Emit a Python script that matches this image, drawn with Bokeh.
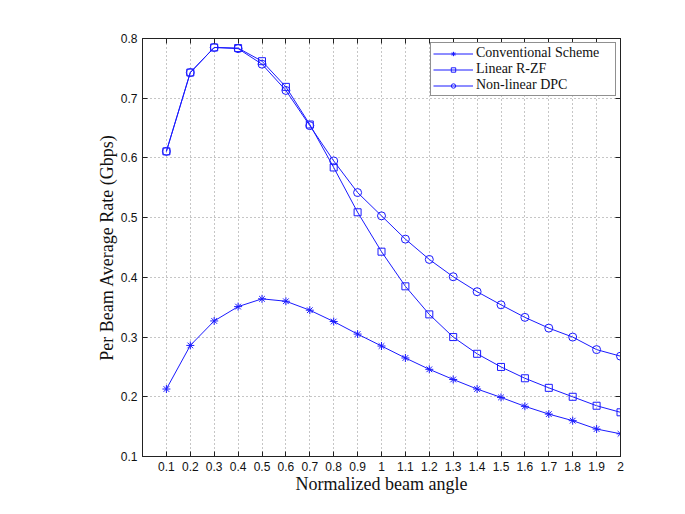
from bokeh.plotting import figure
from bokeh.models import (FixedTicker, LinearAxis, Legend, LegendItem, Range1d,
                          CustomJSTickFormatter)
from bokeh.embed import file_html
from bokeh.resources import INLINE

# ---- data ----
beam_angle = [0.1, 0.2, 0.3, 0.4, 0.5, 0.6, 0.7, 0.8, 0.9, 1.0,
              1.1, 1.2, 1.3, 1.4, 1.5, 1.6, 1.7, 1.8, 1.9, 2.0]
conventional = [0.213, 0.286, 0.327, 0.351, 0.364, 0.360, 0.345, 0.326, 0.305, 0.285,
                0.265, 0.246, 0.229, 0.213, 0.199, 0.184, 0.171, 0.160, 0.146, 0.138]
linear_rzf = [0.611, 0.743, 0.785, 0.784, 0.762, 0.719, 0.656, 0.584, 0.509, 0.443,
              0.385, 0.338, 0.300, 0.272, 0.250, 0.231, 0.215, 0.200, 0.185, 0.174]
nonlinear_dpc = [0.611, 0.743, 0.785, 0.783, 0.757, 0.713, 0.654, 0.595, 0.542, 0.503,
                 0.464, 0.430, 0.401, 0.376, 0.354, 0.333, 0.315, 0.300, 0.279, 0.268]
series_names = ["Conventional Scheme", "Linear R-ZF", "Non-linear DPC"]
x_ticks = beam_angle
y_ticks = [0.1, 0.2, 0.3, 0.4, 0.5, 0.6, 0.7, 0.8]
x_label = "Normalized beam angle"
y_label = "Per Beam Average Rate (Gbps)"

BLUE = "#1a1aff"
SERIF = "Liberation Serif"
SANS = "Liberation Sans"

W, H = 665, 500
FL, FT, FR, FB = 142, 38, 620, 456   # frame edges in the picture
p = figure(width=W, height=H, output_backend="svg", toolbar_location=None,
           x_range=Range1d(0, 2), y_range=Range1d(0.1, 0.8),
           min_border_left=FL, min_border_right=W - FR,
           min_border_top=FT, min_border_bottom=H - FB,
           background_fill_color="white", border_fill_color="white")
p.outline_line_color = "#222222"
p.outline_line_width = 1

fmt = CustomJSTickFormatter(code="return (Math.round(tick*10)/10).toString();")

for ax, ticks in ((p.xaxis[0], x_ticks), (p.yaxis[0], y_ticks)):
    ax.ticker = FixedTicker(ticks=ticks)
    ax.formatter = fmt
    ax.major_tick_in = 5
    ax.major_tick_out = 0
    ax.minor_tick_line_color = None
    ax.axis_line_color = "#222222"
    ax.major_tick_line_color = "#222222"
    ax.major_label_text_font = SANS
    ax.major_label_text_font_size = "12px"
    ax.major_label_text_color = "#111111"
    ax.axis_label_text_font = SERIF
    ax.axis_label_text_font_size = "18px"
    ax.axis_label_text_font_style = "normal"
    ax.axis_label_text_color = "#111111"

p.xaxis[0].axis_label = x_label
p.yaxis[0].axis_label = y_label
p.xaxis[0].major_label_standoff = 5
p.xaxis[0].axis_label_standoff = 0
p.yaxis[0].major_label_standoff = 5
p.yaxis[0].axis_label_standoff = 1

# box ticks on top and right (MATLAB style), without labels
for loc, ticks in (("above", x_ticks), ("right", y_ticks)):
    ax = LinearAxis(ticker=FixedTicker(ticks=ticks), major_tick_in=5, major_tick_out=0,
                    minor_tick_line_color=None, axis_line_color="#222222",
                    major_tick_line_color="#222222",
                    major_label_text_color=None, major_label_text_alpha=0,
                    major_label_text_font_size="1px", major_label_standoff=0)
    p.add_layout(ax, loc)

p.xgrid.ticker = FixedTicker(ticks=x_ticks)
p.ygrid.ticker = FixedTicker(ticks=y_ticks)
for g in (p.xgrid[0], p.ygrid[0]):
    g.grid_line_color = "#8c8c8c"
    g.grid_line_dash = "1 3"
    g.grid_line_width = 1

items = []
for name, vals, marker, size in ((series_names[0], conventional, "asterisk", 8),
                                 (series_names[1], linear_rzf, "square", 7),
                                 (series_names[2], nonlinear_dpc, "circle", 8)):
    lr = p.line(beam_angle, vals, line_color=BLUE, line_width=1)
    sr = p.scatter(beam_angle, vals, marker=marker, size=size, line_color=BLUE,
                   fill_color=None, line_width=1)
    items.append(LegendItem(label=name, renderers=[lr, sr]))

legend = Legend(items=items, location="top_right", margin=4,
                label_text_font=SERIF, label_text_font_size="14px",
                label_text_color="#111111", label_text_line_height=0.9,
                glyph_width=40, glyph_height=11, label_height=11, label_width=137,
                spacing=0, padding=2, label_standoff=3,
                border_line_color="#222222", border_line_width=1,
                background_fill_color="white", background_fill_alpha=1)
p.add_layout(legend, "center")

open("out.html", "w").write(file_html(p, INLINE))
